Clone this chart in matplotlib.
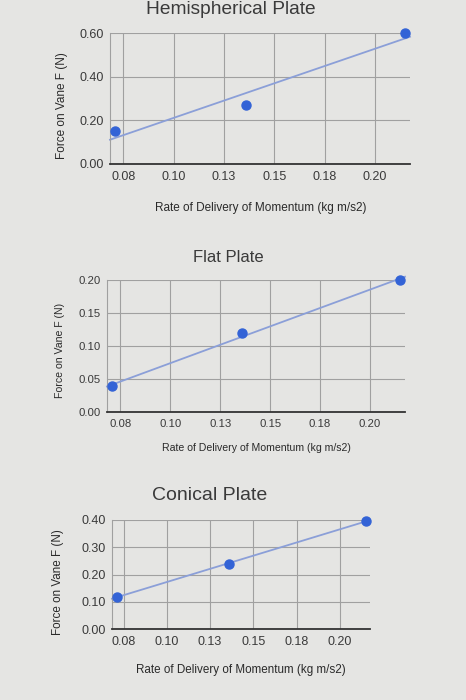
import numpy as np
import matplotlib
matplotlib.use('Agg')
from matplotlib import pyplot as plt

plt.rcParams['font.family'] = ['Liberation Sans', 'DejaVu Sans']

# data
momentum = [0.071, 0.136, 0.215]
hemi_force = [0.15, 0.27, 0.60]
flat_force = [0.039, 0.119, 0.200]
conical_force = [0.118, 0.239, 0.396]

x_ticks = [0.075, 0.100, 0.125, 0.150, 0.175, 0.200]
x_tick_labels = ['0.08', '0.10', '0.13', '0.15', '0.18', '0.20']
hemi_yticks = [0.0, 0.2, 0.4, 0.6]
flat_yticks = [0.0, 0.05, 0.10, 0.15, 0.20]
conical_yticks = [0.0, 0.1, 0.2, 0.3, 0.4]

W, H = 466, 700
BG = '#e5e5e3'
DOT = '#3363d6'
TREND = '#8b9fd8'
GRID = '#a0a0a0'

fig = plt.figure(figsize=(W / 100, H / 100), dpi=100, facecolor=BG)


def px_axes(left, right, top, bottom):
    return fig.add_axes([left / W, 1 - bottom / H, (right - left) / W, (bottom - top) / H])


def panel(ax, y, yticks, title, tpos, xlpos, ylpos, tsize, lsize, ticksize):
    ax.set_facecolor(BG)
    ax.set_xlim(0.0683, 0.2175)
    ax.set_ylim(yticks[0], yticks[-1])
    ax.set_xticks(x_ticks)
    ax.set_xticklabels(x_tick_labels)
    ax.set_yticks(yticks)
    ax.set_yticklabels(['%.2f' % v for v in yticks])
    ax.tick_params(length=0, labelsize=ticksize, labelcolor='#3a3a3a')
    ax.tick_params(axis='y', pad=4.5)
    ax.tick_params(axis='x', pad=5)
    ax.grid(True, color=GRID, linewidth=0.8)
    ax.set_axisbelow(True)
    for s in ['top', 'right']:
        ax.spines[s].set_visible(False)
    ax.spines['left'].set_color(GRID)
    ax.spines['left'].set_linewidth(0.8)
    ax.spines['bottom'].set_color('#333333')
    ax.spines['bottom'].set_linewidth(1.3)

    # linear trendline across the whole x range
    k, b = np.polyfit(momentum, y, 1)
    xs = np.array(ax.get_xlim())
    ax.plot(xs, k * xs + b, color=TREND, linewidth=1.3, zorder=2, clip_on=False)
    ax.plot(momentum, y, 'o', color=DOT, markersize=6.5, zorder=3, clip_on=False)

    fig.text(tpos[0] / W, 1 - tpos[1] / H, title, ha='center', va='center',
             fontsize=tsize, color='#3a3a3a')
    fig.text(xlpos[0] / W, 1 - xlpos[1] / H, 'Rate of Delivery of Momentum (kg m/s2)',
             ha='center', va='center', fontsize=lsize, color='#2a2a2a')
    fig.text(ylpos[0] / W, 1 - ylpos[1] / H, 'Force on Vane F (N)', rotation=90,
             ha='center', va='center', fontsize=lsize, color='#2a2a2a')


ax1 = px_axes(110, 410, 33, 164)
panel(ax1, hemi_force, hemi_yticks, 'Hemispherical Plate', (231, 10), (261, 208), (62, 106),
      13.8, 8.5, 9)

ax2 = px_axes(107, 405, 280, 412)
panel(ax2, flat_force, flat_yticks, 'Flat Plate', (228, 257), (256, 448), (60, 350),
      12, 7.6, 8.2)

ax3 = px_axes(112, 370, 520, 629)
panel(ax3, conical_force, conical_yticks, 'Conical Plate', (210, 495), (241, 670), (58, 582),
      14, 8.4, 9)

fig.savefig('out.png', dpi=100, facecolor=BG)
